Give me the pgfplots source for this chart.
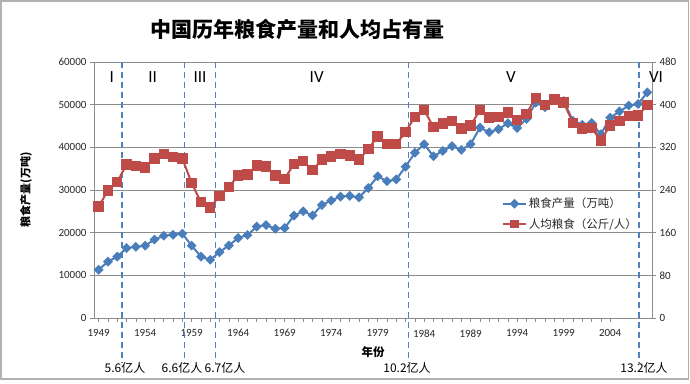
\documentclass[border=0pt]{standalone}
\usepackage{pgfplots}
\pgfplotsset{compat=1.18}
\usepackage{pgfplotstable}
\usepackage{fontspec}
\setmainfont{Carlito}
\newfontfamily\cjk{Noto Sans CJK SC}
\definecolor{sblue}{HTML}{4A7EBB}
\definecolor{sred}{HTML}{BE4B48}
\definecolor{gridc}{HTML}{8C8C8C}
\definecolor{dashc}{HTML}{4F81BD}
\pgfplotstableread{
year prod percap
1949 11318 209
1950 13213 239
1951 14369 255
1952 16392 288
1953 16683 285
1954 16952 282
1955 18394 299
1956 19275 307
1957 19505 302
1958 19765 299
1959 16968 253
1960 14385 217
1961 13650 207
1962 15441 229
1963 17000 246
1964 18750 267
1965 19453 269
1966 21400 286
1967 21782 284
1968 20906 267
1969 21097 261
1970 23996 289
1971 25014 294
1972 24048 277
1973 26494 297
1974 27527 303
1975 28452 308
1976 28631 305
1977 28273 297
1978 30477 317
1979 33212 340
1980 32056 326
1981 32502 326
1982 35450 349
1983 38728 377
1984 40731 390
1985 37911 358
1986 39151 365
1987 40298 369
1988 39408 355
1989 40755 361
1990 44624 390
1991 43529 376
1992 44266 377
1993 45649 385
1994 44510 371
1995 46662 383
1996 50454 413
1997 49417 399
1998 51230 410
1999 50839 404
2000 46218 366
2001 45264 355
2002 45706 356
2003 43070 333
2004 46947 361
2005 48402 369
2006 49804 379
2007 50160 380
2008 52871 399
}\data
\begin{document}
\begin{tikzpicture}
\useasboundingbox (0,0) rectangle (690pt,383pt);
\draw[gray!60, line width=1.2pt] (1pt,4pt) rectangle (688.5pt,382pt);
\node[font=\cjk\bfseries\fontsize{21}{24}\selectfont] at (297pt,353pt) {中国历年粮食产量和人均占有量};
\node[rotate=90, font=\cjk\bfseries\fontsize{11}{13}\selectfont] at (26pt,193pt) {粮食产量(万吨)};
\node[font=\cjk\bfseries\fontsize{11.5}{13}\selectfont] at (373pt,31pt) {年份};
\begin{axis}[
  at={(94pt,65pt)}, anchor=south west, scale only axis,
  width=558pt, height=256pt,
  xmin=1948.5, xmax=2008.5, ymin=0, ymax=60000,
  axis x line*=bottom, axis y line*=left,
  axis line style={gridc, -, line width=0.8pt},
  xtick={1949,1954,...,2004}, minor x tick num=4,
  ytick={0,10000,...,60000},
  ymajorgrids, grid style={gridc, line width=0.7pt},
  tick align=outside, major tick length=4pt, minor tick length=4pt,
  tick style={gridc, line width=0.7pt},
  /pgf/number format/1000 sep={}, /pgf/number format/assume math mode=true,
  scaled ticks=false,
  ticklabel style={font=\fontsize{11}{13}\selectfont, text=black!85},
  xticklabel style={yshift=-4pt},
  clip=false,
  legend cell align=left,
  legend style={at={(0.731,0.477)}, anchor=north west, draw=none, fill=none,
    inner sep=0pt, font=\cjk\fontsize{11.5}{13}\selectfont, row sep=5pt,
    text=black!85},
  legend image code/.code={\draw[mark repeat=2,mark phase=2] plot coordinates {(0cm,0cm)(0.4cm,0cm)(0.8cm,0cm)};},
]
\addplot[sblue, line width=2pt, mark=square*, mark size=2.5pt, mark options={rotate=45, solid}] table[x=year,y=prod]{\data};
\addlegendentry{粮食产量（万吨）}
\addlegendimage{sred, line width=2pt, mark=square*, mark size=3.2pt}
\addlegendentry{人均粮食（公斤/人）}
\draw[dashc, line width=1.3pt, dash pattern=on 6pt off 4pt] (axis cs:1951.5,60000) -- (axis cs:1951.5,-10600);
\draw[dashc, line width=1.3pt, dash pattern=on 6pt off 4pt] (axis cs:1958.2,60000) -- (axis cs:1958.2,-10600);
\draw[dashc, line width=1.3pt, dash pattern=on 6pt off 4pt] (axis cs:1961.6,60000) -- (axis cs:1961.6,-10600);
\draw[dashc, line width=1.3pt, dash pattern=on 6pt off 4pt] (axis cs:1982.3,60000) -- (axis cs:1982.3,-10600);
\draw[dashc, line width=1.3pt, dash pattern=on 6pt off 4pt] (axis cs:2007.1,60000) -- (axis cs:2007.1,-10600);
\end{axis}
\begin{axis}[
  at={(94pt,65pt)}, anchor=south west, scale only axis,
  width=558pt, height=256pt,
  xmin=1948.5, xmax=2008.5, ymin=0, ymax=480,
  axis y line*=right, axis x line=none,
  axis line style={gridc, -, line width=0.8pt},
  ytick={0,80,...,480},
  tick align=outside, major tick length=4pt,
  tick style={gridc, line width=0.7pt},
  /pgf/number format/assume math mode=true,
  ticklabel style={font=\fontsize{11}{13}\selectfont, text=black!85},
]
\addplot[sred, line width=2pt, mark=square*, mark size=4.2pt] table[x=year,y=percap]{\data};
\end{axis}
\begin{scope}[font=\fontsize{17}{20}\selectfont]
\node at (111.7pt,306pt) {I};
\node at (152.7pt,306pt) {II};
\node at (200pt,306pt) {III};
\node at (316.7pt,306pt) {IV};
\node at (511pt,306pt) {V};
\node at (656pt,306pt) {VI};
\end{scope}
\begin{scope}[font=\cjk\fontsize{12}{14}\selectfont]
\node at (125pt,15pt) {5.6亿人};
\node at (182pt,15pt) {6.6亿人};
\node at (225pt,15pt) {6.7亿人};
\node at (407pt,15pt) {10.2亿人};
\node at (644pt,15pt) {13.2亿人};
\end{scope}
\end{tikzpicture}
\end{document}
